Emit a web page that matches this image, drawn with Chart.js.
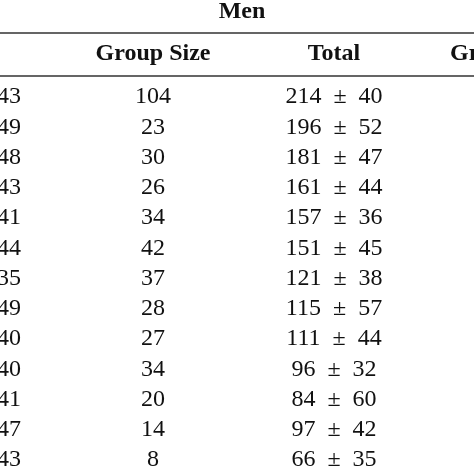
<!DOCTYPE html>
<html><head><meta charset="utf-8">
<script src="https://cdn.jsdelivr.net/npm/chart.js@4"></script>
<style>html,body{margin:0;background:#fff}#w{width:474px;height:474px}</style>
</head><body><div id="w"><canvas id="c"></canvas></div>
<script>
const leftCol = ["\u00b1 43","\u00b1 49","\u00b1 48","\u00b1 43","\u00b1 41","\u00b1 44","\u00b1 35","\u00b1 49","\u00b1 40","\u00b1 40","\u00b1 41","\u00b1 47","\u00b1 43"];
const groupSize = [104,23,30,26,34,42,37,28,27,34,20,14,8];
const totalMean = [214,196,181,161,157,151,121,115,111,96,84,97,66];
const totalSd = [40,52,47,44,36,45,38,57,44,32,60,42,35];
const headers = ["Group Size","Total","Gr"];
const title = "Men";

const tablePlugin = {
  id:'table',
  afterDraw(chart){
    const ctx = chart.ctx;
    const ys = chart.scales.y;
    const font = '"Liberation Serif", serif';
    ctx.save();
    ctx.fillStyle = '#111';
    ctx.textBaseline = 'middle';
    ctx.font = 'bold 24px ' + font;
    ctx.textAlign = 'center';
    ctx.fillText(title, 242, 12);
    ctx.fillText(headers[0], 153, 54);
    ctx.fillText(headers[1], 334, 54);
    ctx.textAlign = 'left';
    ctx.fillText(headers[2], 450, 54);
    ctx.strokeStyle = '#333'; ctx.lineWidth = 1.5;
    ctx.beginPath(); ctx.moveTo(0,33); ctx.lineTo(474,33); ctx.moveTo(0,76); ctx.lineTo(474,76); ctx.stroke();
    ctx.font = '24px ' + font;
    groupSize.forEach((g,i)=>{
      const y = ys.getPixelForValue(i);
      ctx.textAlign='right'; ctx.fillText(leftCol[i], 21, y);
      ctx.textAlign='center'; ctx.fillText(String(g), 153, y);
      ctx.fillText(totalMean[i] + '  \u00b1  ' + totalSd[i], 334, y);
    });
    ctx.restore();
  }
};
new Chart(document.getElementById('c'), {
  type:'scatter',
  data:{datasets:[{data:[],pointRadius:0}]},
  options:{responsive:true,maintainAspectRatio:false,animation:false,
    layout:{padding:0},
    plugins:{legend:{display:false},tooltip:{enabled:false}},
    scales:{
      x:{display:false,min:0,max:1},
      y:{display:false,reverse:true,min:-(97/30.25),max:(474-97)/30.25}
    }},
  plugins:[tablePlugin]
});
</script></body></html>
